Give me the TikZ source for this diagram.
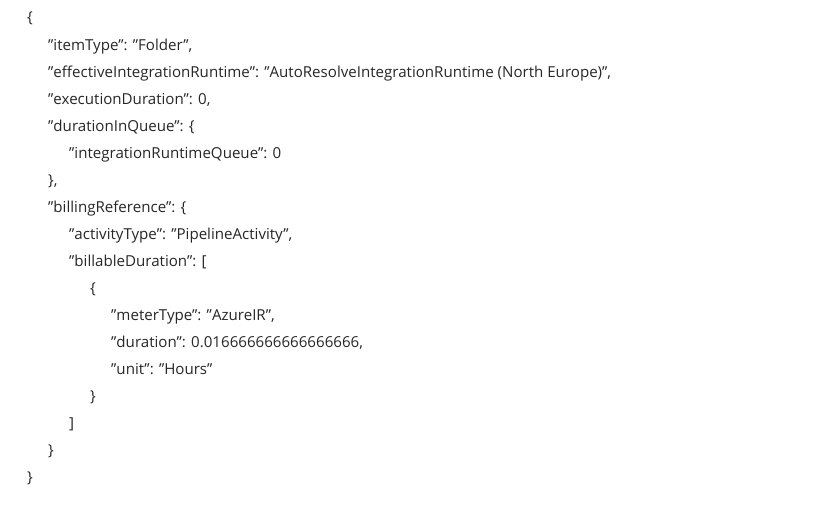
\documentclass[tikz,border=0pt]{standalone}
\usepackage{fontspec}
\setmainfont{Open Sans}[Ligatures=ResetAll]
\newcommand\qq{"}
\begin{document}
\begin{tikzpicture}[x=1pt,y=-1pt,t/.style={anchor=base west,inner sep=0pt,font=\fontsize{15.1}{18}\selectfont,text=black!85}]
\useasboundingbox (0,0) rectangle (814,522);
\node[t] (l1) at (27,23) {\{};
\node[t] (l2) at (48,50) {\qq itemType\qq: \qq Folder\qq,};
\node[t] (l3) at (48,77) {\qq effectiveIntegrationRuntime\qq: \qq AutoResolveIntegrationRuntime (North Europe)\qq,};
\node[t] (l4) at (48,104) {\qq executionDuration\qq: 0,};
\node[t] (l5) at (48,131) {\qq durationInQueue\qq: \{};
\node[t] (l6) at (69,158) {\qq integrationRuntimeQueue\qq: 0};
\node[t] (l7) at (48,185) {\},};
\node[t] (l8) at (48,212) {\qq billingReference\qq: \{};
\node[t] (l9) at (69,239) {\qq activityType\qq: \qq PipelineActivity\qq,};
\node[t] (l10) at (69,266) {\qq billableDuration\qq: [};
\node[t] (l11) at (90,293) {\{};
\node[t] (l12) at (111,320) {\qq meterType\qq: \qq AzureIR\qq,};
\node[t] (l13) at (111,347) {\qq duration\qq: 0.016666666666666666,};
\node[t] (l14) at (111,374) {\qq unit\qq: \qq Hours\qq};
\node[t] (l15) at (90,401) {\}};
\node[t] (l16) at (69,428) {]};
\node[t] (l17) at (48,455) {\}};
\node[t] (l18) at (27,482) {\}};
\end{tikzpicture}
\end{document}
